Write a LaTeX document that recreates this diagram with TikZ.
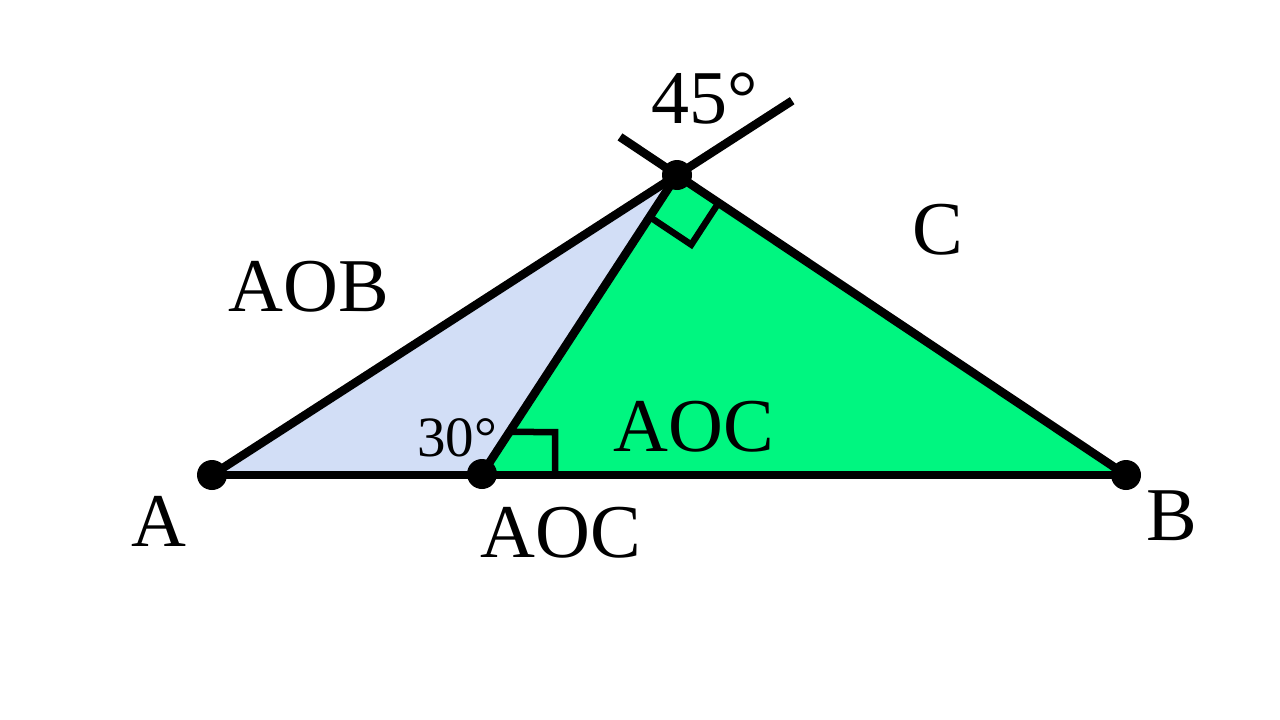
\documentclass[tikz,border=0pt]{standalone}
\usepackage{fontspec}
\setmainfont{Liberation Serif}
\usetikzlibrary{calc}
\definecolor{paleblue}{RGB}{210,222,246}
\definecolor{brightgreen}{RGB}{0,246,128}
\tikzset{
  edge/.style={line width=8.5pt, line cap=butt, line join=round},
  marker/.style={line width=6.5pt, line join=miter},
  vdot/.style={circle, fill=black, minimum size=30pt, inner sep=0pt},
  biglabel/.style={inner sep=0pt, font=\fontsize{76}{76}\selectfont},
  smalllabel/.style={inner sep=0pt, font=\fontsize{57}{57}\selectfont}
}
\begin{document}
\begin{tikzpicture}[x=1pt,y=-1pt]
\useasboundingbox (0,0) rectangle (1280,720);
\fill[white] (0,0) rectangle (1280,720);
\coordinate (A) at (212,475);
\coordinate (O) at (482,474);
\coordinate (B) at (1126,475);
\coordinate (T) at (677,175);
\coordinate (EA) at ($(T)!-0.2477!(A)$);
\coordinate (EB) at ($(T)!-0.127!(B)$);
% fills
\fill[paleblue] (A) -- (O) -- (T) -- cycle;
\fill[brightgreen] (O) -- (B) -- (T) -- cycle;
% right angle markers
\coordinate (Q1) at ($(O)!0.1405!(T)$);
\coordinate (Q2) at (555,432);
\coordinate (Q3) at (555,474);
\draw[marker] (Q1) -- (Q2) -- (Q3);
\coordinate (P1) at ($(T)!50pt!(O)$);
\coordinate (P2) at ($(T)!50pt!(B)$);
\coordinate (P3) at ($(P1)+(P2)-(T)$);
\draw[marker] (P1) -- (P3) -- (P2);
% edges
\draw[edge] (A) -- (B);
\draw[edge] (A) -- (EA);
\draw[edge] (B) -- (EB);
\draw[edge] (O) -- (T);
% dots
\node[vdot] (dA) at (A) {};
\node[vdot] (dO) at (O) {};
\node[vdot] (dB) at (B) {};
\node[vdot] (dT) at (T) {};
% labels
\node[biglabel] (l45) at (705,99) {45°};
\node[biglabel] (lC) at (938,230) {C};
\node[biglabel] (lAOB) at (309,287) {AOB};
\node[biglabel] (lA) at (159,521) {A};
\node[biglabel] (lAOC1) at (561,533) {AOC};
\node[biglabel] (lAOC2) at (694,427) {AOC};
\node[biglabel] (lB) at (1172,516) {B};
\node[smalllabel] (l30) at (457,438) {30°};
\end{tikzpicture}
\end{document}
